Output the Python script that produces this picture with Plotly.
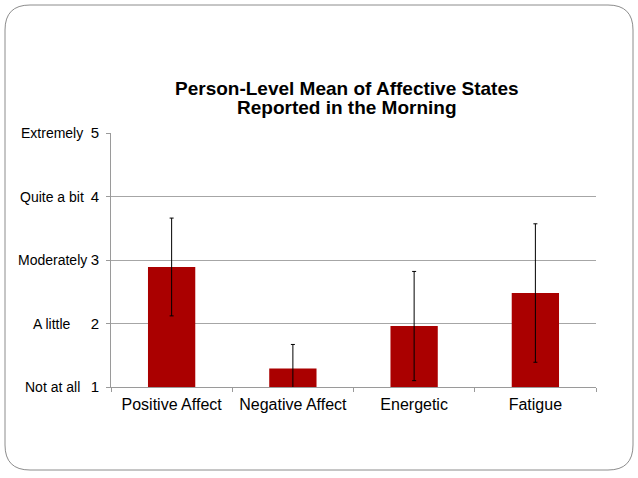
import plotly.graph_objects as go

# data
categories = ["Positive Affect", "Negative Affect", "Energetic", "Fatigue"]
means = [2.89, 1.29, 1.96, 2.48]
errors = [0.77, 0.38, 0.86, 1.09]
tick_values = [1, 2, 3, 4, 5]
scale_words = ["Not at all", "A little", "Moderately", "Quite a bit", "Extremely"]
title_lines = ["Person-Level Mean of Affective States", "Reported in the Morning"]

W, H = 638, 478
L, R, T, B = 111, 42, 133, 91
FONT = "Liberation Sans, Arial, sans-serif"


def px_x(px):
    return (px - L) / (W - L - R)


def px_y(py):
    return (H - B - py) / (H - T - B)


fig = go.Figure()
fig.add_trace(go.Bar(
    x=categories,
    y=means,
    width=0.39,
    marker=dict(color="#AA0000", line=dict(width=0)),
    error_y=dict(type="data", array=errors, visible=True,
                 color="#000000", thickness=1, width=2),
))

# word labels for the rating scale
for v, word in zip(tick_values, scale_words):
    fig.add_annotation(x=px_x(52), y=v, xref="paper", yref="y",
                       text=word, showarrow=False, xanchor="center",
                       font=dict(size=14, color="#000000", family=FONT))

# two-line bold title, tighter line spacing than plotly's default
for py, line in zip([88, 108], title_lines):
    fig.add_annotation(x=px_x(347), y=px_y(py), xref="paper", yref="paper",
                       text=f"<b>{line}</b>", showarrow=False,
                       xanchor="center", yanchor="middle",
                       font=dict(size=19, color="#000000", family=FONT))

# rounded slide frame
x0, x1 = px_x(5), px_x(633)
y0, y1 = px_y(5), px_y(470)
rx = px_x(25) - px_x(0)
ry = px_y(0) - px_y(25)
path = (f"M {x0 + rx},{y0} L {x1 - rx},{y0} Q {x1},{y0} {x1},{y0 - ry} "
        f"L {x1},{y1 + ry} Q {x1},{y1} {x1 - rx},{y1} "
        f"L {x0 + rx},{y1} Q {x0},{y1} {x0},{y1 + ry} "
        f"L {x0},{y0 - ry} Q {x0},{y0} {x0 + rx},{y0} Z")
fig.add_shape(type="path", path=path, xref="paper", yref="paper",
              line=dict(color="#8c8c8c", width=1), layer="below")

fig.update_layout(
    width=W, height=H,
    margin=dict(l=L, r=R, t=T, b=B),
    paper_bgcolor="#ffffff",
    plot_bgcolor="#ffffff",
    showlegend=False,
    font=dict(family=FONT, color="#000000"),
)
fig.update_xaxes(
    showline=True, linecolor="#9a9a9a", linewidth=1,
    ticks="outside", tickson="boundaries", ticklen=4, tickcolor="#9a9a9a",
    ticklabelstandoff=3,
    showgrid=False, tickfont=dict(size=16, family=FONT),
)
fig.update_yaxes(
    range=[1, 5], tickvals=tick_values,
    showline=True, linecolor="#9a9a9a", linewidth=1,
    ticks="outside", ticklen=4, tickcolor="#9a9a9a",
    ticklabelstandoff=4,
    showgrid=True, gridcolor="#a6a6a6", gridwidth=1,
    zeroline=False, tickfont=dict(size=15, family=FONT),
)

# drop the browser's default body margin so the figure sits at the page corner
fig.write_html("out.html", config={"displayModeBar": False},
               post_script="document.body.style.margin='0';")
